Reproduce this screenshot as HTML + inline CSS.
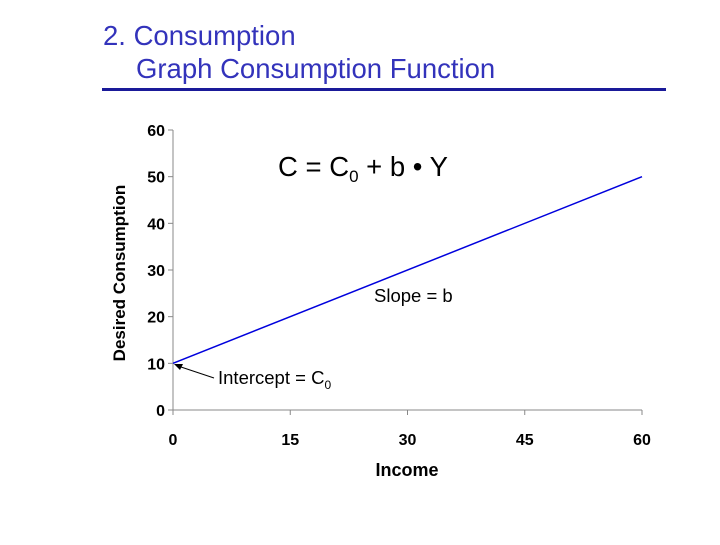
<!DOCTYPE html>
<html><head><meta charset="utf-8"><style>
body{margin:0;background:#fff;width:720px;height:540px;overflow:hidden;font-family:"Liberation Sans",sans-serif}
</style></head><body>
<svg width="720" height="540" viewBox="0 0 720 540">
<text x="103" y="45" font-size="27.5" fill="#3333bb">2. Consumption</text>
<text x="136" y="78" font-size="27.5" fill="#3333bb">Graph Consumption Function</text>
<rect x="102" y="88" width="564" height="3" fill="#1a1a99"/>
<g id="chart"></g>
<text x="278" y="176" font-size="27.5" fill="#000">C = C<tspan font-size="17" dy="6">0</tspan><tspan dy="-6"> + b • Y</tspan></text>
<text x="374" y="302" font-size="18.5" fill="#000">Slope = b</text>
<text x="218" y="384" font-size="18.5" fill="#000">Intercept = C<tspan font-size="12" dy="5">0</tspan></text>
<line x1="214" y1="378" x2="178" y2="366" stroke="#000" stroke-width="1"/>
<polygon points="174,364 183,364 180,370" fill="#000"/>
<text x="407" y="476" font-size="18" font-weight="bold" text-anchor="middle">Income</text>
<text transform="translate(125,273) rotate(-90)" font-size="17" font-weight="bold" text-anchor="middle">Desired Consumption</text>
</svg>
<script>
const xTicks=[0,15,30,45,60];
const yTicks=[0,10,20,30,40,50,60];
const lineX=[0,60];
const lineY=[10,50];
const X0=173,X1=642,Y0=410,Y1=130;
const sx=v=>X0+(v-0)/(60-0)*(X1-X0);
const sy=v=>Y0-(v-0)/(60-0)*(Y0-Y1);
const g=document.getElementById('chart');
const NS='http://www.w3.org/2000/svg';
function mk(t,a){const e=document.createElementNS(NS,t);for(const k in a)e.setAttribute(k,a[k]);g.appendChild(e);return e;}
let e=mk('line',{x1:X0,y1:Y1,x2:X0,y2:Y0,stroke:'#888','stroke-width':1});


e=mk('line',{x1:X0,y1:Y0,x2:X1,y2:Y0,stroke:'#888','stroke-width':1});


yTicks.forEach(v=>{
 let t=mk('line',{x1:X0-5,y1:sy(v),x2:X0,y2:sy(v),stroke:'#888'});
 
 
 let l=mk('text',{x:X0-8,y:sy(v)+6,'font-size':16,'font-weight':'bold','text-anchor':'end'});
 l.textContent=v;
 
 
});
xTicks.forEach(v=>{
 let t=mk('line',{x1:sx(v),y1:Y0,x2:sx(v),y2:Y0+5,stroke:'#888'});
 
 
 let l=mk('text',{x:sx(v),y:Y0+35,'font-size':16,'font-weight':'bold','text-anchor':'middle'});
 l.textContent=v;
 
 
});
const ln=mk('polyline',{points:lineX.map((x,i)=>sx(x)+','+sy(lineY[i])).join(' '),fill:'none',stroke:'#0000dd','stroke-width':1.5});


</script>
</body></html>
